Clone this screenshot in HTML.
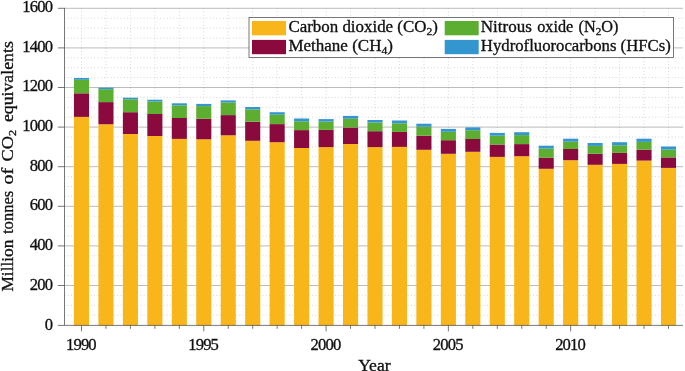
<!DOCTYPE html>
<html lang="en"><head><meta charset="utf-8"><title>Greenhouse gas emissions</title>
<style>html,body{margin:0;padding:0;background:#fff}svg{display:block}text{stroke:#111;stroke-width:.32px}</style></head>
<body>
<svg width="685" height="371" viewBox="0 0 685 371" font-family="'Liberation Serif', 'DejaVu Serif', serif" font-size="16.6" fill="#111">
<rect width="685" height="371" fill="#fff"/>
<g stroke="#c6c6c6" stroke-width="0.8" stroke-dasharray="0.9 2.4" fill="none">
<path d="M64.5 315.20H683.0"/>
<path d="M64.5 305.30H683.0"/>
<path d="M64.5 295.40H683.0"/>
<path d="M64.5 275.60H683.0"/>
<path d="M64.5 265.70H683.0"/>
<path d="M64.5 255.80H683.0"/>
<path d="M64.5 236.00H683.0"/>
<path d="M64.5 226.10H683.0"/>
<path d="M64.5 216.20H683.0"/>
<path d="M64.5 196.40H683.0"/>
<path d="M64.5 186.50H683.0"/>
<path d="M64.5 176.60H683.0"/>
<path d="M64.5 156.80H683.0"/>
<path d="M64.5 146.90H683.0"/>
<path d="M64.5 137.00H683.0"/>
<path d="M64.5 117.20H683.0"/>
<path d="M64.5 107.30H683.0"/>
<path d="M64.5 97.40H683.0"/>
<path d="M64.5 77.60H683.0"/>
<path d="M64.5 67.70H683.0"/>
<path d="M64.5 57.80H683.0"/>
<path d="M64.5 38.00H683.0"/>
<path d="M64.5 28.10H683.0"/>
<path d="M64.5 18.20H683.0"/>
<path d="M81.50 8.30V325.1"/>
<path d="M105.96 8.30V325.1"/>
<path d="M130.42 8.30V325.1"/>
<path d="M154.87 8.30V325.1"/>
<path d="M179.33 8.30V325.1"/>
<path d="M203.79 8.30V325.1"/>
<path d="M228.25 8.30V325.1"/>
<path d="M252.71 8.30V325.1"/>
<path d="M277.16 8.30V325.1"/>
<path d="M301.62 8.30V325.1"/>
<path d="M326.08 8.30V325.1"/>
<path d="M350.54 8.30V325.1"/>
<path d="M375.00 8.30V325.1"/>
<path d="M399.45 8.30V325.1"/>
<path d="M423.91 8.30V325.1"/>
<path d="M448.37 8.30V325.1"/>
<path d="M472.83 8.30V325.1"/>
<path d="M497.29 8.30V325.1"/>
<path d="M521.74 8.30V325.1"/>
<path d="M546.20 8.30V325.1"/>
<path d="M570.66 8.30V325.1"/>
<path d="M595.12 8.30V325.1"/>
<path d="M619.58 8.30V325.1"/>
<path d="M644.03 8.30V325.1"/>
<path d="M668.49 8.30V325.1"/>
</g>
<g stroke="#989898" stroke-width="0.65" fill="none">
<path d="M64.5 285.50H683.0"/>
<path d="M64.5 245.90H683.0"/>
<path d="M64.5 206.30H683.0"/>
<path d="M64.5 166.70H683.0"/>
<path d="M64.5 127.10H683.0"/>
<path d="M64.5 87.50H683.0"/>
<path d="M64.5 47.90H683.0"/>
<path d="M64.5 8.30H683.0"/>
</g>
<rect x="73.95" y="116.9" width="15.1" height="208.50" fill="#F8B61B"/>
<rect x="73.95" y="93.3" width="15.1" height="23.60" fill="#8B0A3E"/>
<rect x="73.95" y="79.8" width="15.1" height="13.50" fill="#5CAE30"/>
<rect x="73.95" y="78.0" width="15.1" height="1.80" fill="#3396CE"/>
<rect x="98.41" y="124.25" width="15.1" height="201.15" fill="#F8B61B"/>
<rect x="98.41" y="102.1" width="15.1" height="22.15" fill="#8B0A3E"/>
<rect x="98.41" y="89.2" width="15.1" height="12.90" fill="#5CAE30"/>
<rect x="98.41" y="87.6" width="15.1" height="1.60" fill="#3396CE"/>
<rect x="122.87" y="134.0" width="15.1" height="191.40" fill="#F8B61B"/>
<rect x="122.87" y="112.2" width="15.1" height="21.80" fill="#8B0A3E"/>
<rect x="122.87" y="99.3" width="15.1" height="12.90" fill="#5CAE30"/>
<rect x="122.87" y="97.7" width="15.1" height="1.60" fill="#3396CE"/>
<rect x="147.32" y="136.0" width="15.1" height="189.40" fill="#F8B61B"/>
<rect x="147.32" y="114.0" width="15.1" height="22.00" fill="#8B0A3E"/>
<rect x="147.32" y="101.5" width="15.1" height="12.50" fill="#5CAE30"/>
<rect x="147.32" y="99.7" width="15.1" height="1.80" fill="#3396CE"/>
<rect x="171.78" y="138.9" width="15.1" height="186.50" fill="#F8B61B"/>
<rect x="171.78" y="118.0" width="15.1" height="20.90" fill="#8B0A3E"/>
<rect x="171.78" y="105.4" width="15.1" height="12.60" fill="#5CAE30"/>
<rect x="171.78" y="103.3" width="15.1" height="2.10" fill="#3396CE"/>
<rect x="196.24" y="139.3" width="15.1" height="186.10" fill="#F8B61B"/>
<rect x="196.24" y="118.8" width="15.1" height="20.50" fill="#8B0A3E"/>
<rect x="196.24" y="106.1" width="15.1" height="12.70" fill="#5CAE30"/>
<rect x="196.24" y="103.9" width="15.1" height="2.20" fill="#3396CE"/>
<rect x="220.70" y="135.3" width="15.1" height="190.10" fill="#F8B61B"/>
<rect x="220.70" y="115.1" width="15.1" height="20.20" fill="#8B0A3E"/>
<rect x="220.70" y="102.5" width="15.1" height="12.60" fill="#5CAE30"/>
<rect x="220.70" y="100.4" width="15.1" height="2.10" fill="#3396CE"/>
<rect x="245.16" y="140.8" width="15.1" height="184.60" fill="#F8B61B"/>
<rect x="245.16" y="121.7" width="15.1" height="19.10" fill="#8B0A3E"/>
<rect x="245.16" y="109.4" width="15.1" height="12.30" fill="#5CAE30"/>
<rect x="245.16" y="107.0" width="15.1" height="2.40" fill="#3396CE"/>
<rect x="269.61" y="142.2" width="15.1" height="183.20" fill="#F8B61B"/>
<rect x="269.61" y="124.1" width="15.1" height="18.10" fill="#8B0A3E"/>
<rect x="269.61" y="114.7" width="15.1" height="9.40" fill="#5CAE30"/>
<rect x="269.61" y="112.2" width="15.1" height="2.50" fill="#3396CE"/>
<rect x="294.07" y="148.0" width="15.1" height="177.40" fill="#F8B61B"/>
<rect x="294.07" y="130.1" width="15.1" height="17.90" fill="#8B0A3E"/>
<rect x="294.07" y="121.3" width="15.1" height="8.80" fill="#5CAE30"/>
<rect x="294.07" y="118.5" width="15.1" height="2.80" fill="#3396CE"/>
<rect x="318.53" y="147.1" width="15.1" height="178.30" fill="#F8B61B"/>
<rect x="318.53" y="129.9" width="15.1" height="17.20" fill="#8B0A3E"/>
<rect x="318.53" y="121.6" width="15.1" height="8.30" fill="#5CAE30"/>
<rect x="318.53" y="119.1" width="15.1" height="2.50" fill="#3396CE"/>
<rect x="342.99" y="144.0" width="15.1" height="181.40" fill="#F8B61B"/>
<rect x="342.99" y="127.5" width="15.1" height="16.50" fill="#8B0A3E"/>
<rect x="342.99" y="118.7" width="15.1" height="8.80" fill="#5CAE30"/>
<rect x="342.99" y="115.9" width="15.1" height="2.80" fill="#3396CE"/>
<rect x="367.45" y="147.1" width="15.1" height="178.30" fill="#F8B61B"/>
<rect x="367.45" y="131.2" width="15.1" height="15.90" fill="#8B0A3E"/>
<rect x="367.45" y="122.5" width="15.1" height="8.70" fill="#5CAE30"/>
<rect x="367.45" y="120.0" width="15.1" height="2.50" fill="#3396CE"/>
<rect x="391.90" y="146.9" width="15.1" height="178.50" fill="#F8B61B"/>
<rect x="391.90" y="131.9" width="15.1" height="15.00" fill="#8B0A3E"/>
<rect x="391.90" y="123.3" width="15.1" height="8.60" fill="#5CAE30"/>
<rect x="391.90" y="120.5" width="15.1" height="2.80" fill="#3396CE"/>
<rect x="416.36" y="149.8" width="15.1" height="175.60" fill="#F8B61B"/>
<rect x="416.36" y="135.7" width="15.1" height="14.10" fill="#8B0A3E"/>
<rect x="416.36" y="126.7" width="15.1" height="9.00" fill="#5CAE30"/>
<rect x="416.36" y="123.7" width="15.1" height="3.00" fill="#3396CE"/>
<rect x="440.82" y="153.8" width="15.1" height="171.60" fill="#F8B61B"/>
<rect x="440.82" y="140.2" width="15.1" height="13.60" fill="#8B0A3E"/>
<rect x="440.82" y="131.8" width="15.1" height="8.40" fill="#5CAE30"/>
<rect x="440.82" y="128.9" width="15.1" height="2.90" fill="#3396CE"/>
<rect x="465.28" y="151.8" width="15.1" height="173.60" fill="#F8B61B"/>
<rect x="465.28" y="139.0" width="15.1" height="12.80" fill="#8B0A3E"/>
<rect x="465.28" y="130.2" width="15.1" height="8.80" fill="#5CAE30"/>
<rect x="465.28" y="127.4" width="15.1" height="2.80" fill="#3396CE"/>
<rect x="489.74" y="156.9" width="15.1" height="168.50" fill="#F8B61B"/>
<rect x="489.74" y="144.5" width="15.1" height="12.40" fill="#8B0A3E"/>
<rect x="489.74" y="135.7" width="15.1" height="8.80" fill="#5CAE30"/>
<rect x="489.74" y="132.9" width="15.1" height="2.80" fill="#3396CE"/>
<rect x="514.19" y="156.2" width="15.1" height="169.20" fill="#F8B61B"/>
<rect x="514.19" y="144.1" width="15.1" height="12.10" fill="#8B0A3E"/>
<rect x="514.19" y="135.1" width="15.1" height="9.00" fill="#5CAE30"/>
<rect x="514.19" y="132.2" width="15.1" height="2.90" fill="#3396CE"/>
<rect x="538.65" y="168.8" width="15.1" height="156.60" fill="#F8B61B"/>
<rect x="538.65" y="157.6" width="15.1" height="11.20" fill="#8B0A3E"/>
<rect x="538.65" y="148.6" width="15.1" height="9.00" fill="#5CAE30"/>
<rect x="538.65" y="145.7" width="15.1" height="2.90" fill="#3396CE"/>
<rect x="563.11" y="160.2" width="15.1" height="165.20" fill="#F8B61B"/>
<rect x="563.11" y="149.0" width="15.1" height="11.20" fill="#8B0A3E"/>
<rect x="563.11" y="141.7" width="15.1" height="7.30" fill="#5CAE30"/>
<rect x="563.11" y="138.7" width="15.1" height="3.00" fill="#3396CE"/>
<rect x="587.57" y="164.8" width="15.1" height="160.60" fill="#F8B61B"/>
<rect x="587.57" y="153.8" width="15.1" height="11.00" fill="#8B0A3E"/>
<rect x="587.57" y="145.9" width="15.1" height="7.90" fill="#5CAE30"/>
<rect x="587.57" y="143.0" width="15.1" height="2.90" fill="#3396CE"/>
<rect x="612.03" y="163.9" width="15.1" height="161.50" fill="#F8B61B"/>
<rect x="612.03" y="152.9" width="15.1" height="11.00" fill="#8B0A3E"/>
<rect x="612.03" y="145.3" width="15.1" height="7.60" fill="#5CAE30"/>
<rect x="612.03" y="142.2" width="15.1" height="3.10" fill="#3396CE"/>
<rect x="636.48" y="160.6" width="15.1" height="164.80" fill="#F8B61B"/>
<rect x="636.48" y="149.6" width="15.1" height="11.00" fill="#8B0A3E"/>
<rect x="636.48" y="141.9" width="15.1" height="7.70" fill="#5CAE30"/>
<rect x="636.48" y="138.7" width="15.1" height="3.20" fill="#3396CE"/>
<rect x="660.94" y="167.9" width="15.1" height="157.50" fill="#F8B61B"/>
<rect x="660.94" y="157.4" width="15.1" height="10.50" fill="#8B0A3E"/>
<rect x="660.94" y="149.6" width="15.1" height="7.80" fill="#5CAE30"/>
<rect x="660.94" y="146.5" width="15.1" height="3.10" fill="#3396CE"/>
<g stroke="#4a4a4a" stroke-width="0.75" fill="none">
<path d="M57.9 325.40H64.5"/>
<path d="M57.9 285.50H64.5"/>
<path d="M57.9 245.90H64.5"/>
<path d="M57.9 206.30H64.5"/>
<path d="M57.9 166.70H64.5"/>
<path d="M57.9 127.10H64.5"/>
<path d="M57.9 87.50H64.5"/>
<path d="M57.9 47.90H64.5"/>
<path d="M57.9 8.30H64.5"/>
<path d="M81.50 325.4V331.4"/>
<path d="M105.96 325.4V328.8"/>
<path d="M130.42 325.4V328.8"/>
<path d="M154.87 325.4V328.8"/>
<path d="M179.33 325.4V328.8"/>
<path d="M203.79 325.4V331.4"/>
<path d="M228.25 325.4V328.8"/>
<path d="M252.71 325.4V328.8"/>
<path d="M277.16 325.4V328.8"/>
<path d="M301.62 325.4V328.8"/>
<path d="M326.08 325.4V331.4"/>
<path d="M350.54 325.4V328.8"/>
<path d="M375.00 325.4V328.8"/>
<path d="M399.45 325.4V328.8"/>
<path d="M423.91 325.4V328.8"/>
<path d="M448.37 325.4V331.4"/>
<path d="M472.83 325.4V328.8"/>
<path d="M497.29 325.4V328.8"/>
<path d="M521.74 325.4V328.8"/>
<path d="M546.20 325.4V328.8"/>
<path d="M570.66 325.4V331.4"/>
<path d="M595.12 325.4V328.8"/>
<path d="M619.58 325.4V328.8"/>
<path d="M644.03 325.4V328.8"/>
<path d="M668.49 325.4V328.8"/>
<path d="M64.5 7.90V325.4H683.0"/>
</g>
<text x="52.4" y="329.60" text-anchor="end" letter-spacing="-0.75">0</text>
<text x="52.4" y="290.00" text-anchor="end" letter-spacing="-0.75">200</text>
<text x="52.4" y="250.23" text-anchor="end" letter-spacing="-0.75">400</text>
<text x="52.4" y="210.45" text-anchor="end" letter-spacing="-0.75">600</text>
<text x="52.4" y="170.68" text-anchor="end" letter-spacing="-0.75">800</text>
<text x="52.4" y="130.90" text-anchor="end" letter-spacing="-0.75">1000</text>
<text x="52.4" y="91.30" text-anchor="end" letter-spacing="-0.75">1200</text>
<text x="52.4" y="51.70" text-anchor="end" letter-spacing="-0.75">1400</text>
<text x="52.4" y="12.10" text-anchor="end" letter-spacing="-0.75">1600</text>
<text x="80.90" y="350.3" text-anchor="middle" letter-spacing="-0.85">1990</text>
<text x="203.19" y="350.3" text-anchor="middle" letter-spacing="-0.85">1995</text>
<text x="325.48" y="350.3" text-anchor="middle" letter-spacing="-0.85">2000</text>
<text x="447.77" y="350.3" text-anchor="middle" letter-spacing="-0.85">2005</text>
<text x="570.06" y="350.3" text-anchor="middle" letter-spacing="-0.85">2010</text>
<text x="358.2" y="370.8" font-size="17.2" textLength="32.4" lengthAdjust="spacingAndGlyphs">Year</text>
<text transform="translate(12.7 0) rotate(-90)" font-size="17.2"><tspan x="-291.6" textLength="52.0" lengthAdjust="spacingAndGlyphs">Million</tspan> <tspan x="-234.0" textLength="43.3" lengthAdjust="spacingAndGlyphs">tonnes</tspan> <tspan x="-184.5" textLength="16.8" lengthAdjust="spacingAndGlyphs">of</tspan> <tspan x="-161.6" textLength="31.7" lengthAdjust="spacingAndGlyphs">CO<tspan font-size="11.3" dy="3.1">2</tspan></tspan> <tspan x="-122.1" dy="-3.1" textLength="80.9" lengthAdjust="spacingAndGlyphs">equivalents</tspan></text>
<rect x="249" y="17.5" width="424.6" height="40.1" fill="#fff" stroke="#4a4a4a" stroke-width="0.75"/>
<rect x="252" y="21" width="34" height="14.3" fill="#F8B61B"/>
<rect x="252" y="39.9" width="34" height="14.3" fill="#8B0A3E"/>
<rect x="444.7" y="21" width="34" height="14.3" fill="#5CAE30"/>
<rect x="444.7" y="39.9" width="34" height="14.3" fill="#3396CE"/>
<text x="288.4" y="32.2" font-size="15.8" textLength="149.5" lengthAdjust="spacingAndGlyphs">Carbon dioxide (CO<tspan font-size="10.8" dy="3.1">2</tspan><tspan dy="-3.1">)</tspan></text>
<text x="288.4" y="51.0" font-size="15.8" textLength="104.6" lengthAdjust="spacingAndGlyphs">Methane (CH<tspan font-size="10.8" dy="3.1">4</tspan><tspan dy="-3.1">)</tspan></text>
<text y="32.2" font-size="15.8"><tspan x="480.80" textLength="51.0" lengthAdjust="spacingAndGlyphs">Nitrous</tspan> <tspan x="537.20" textLength="36.1" lengthAdjust="spacingAndGlyphs">oxide</tspan> <tspan x="578.60" textLength="39.9" lengthAdjust="spacingAndGlyphs">(N<tspan font-size="10.8" dy="3.1">2</tspan><tspan dy="-3.1">O)</tspan></tspan></text>
<text x="480.85" y="51.0" font-size="15.8" textLength="189.95" lengthAdjust="spacingAndGlyphs">Hydrofluorocarbons (HFCs)</text>
</svg>
</body></html>
